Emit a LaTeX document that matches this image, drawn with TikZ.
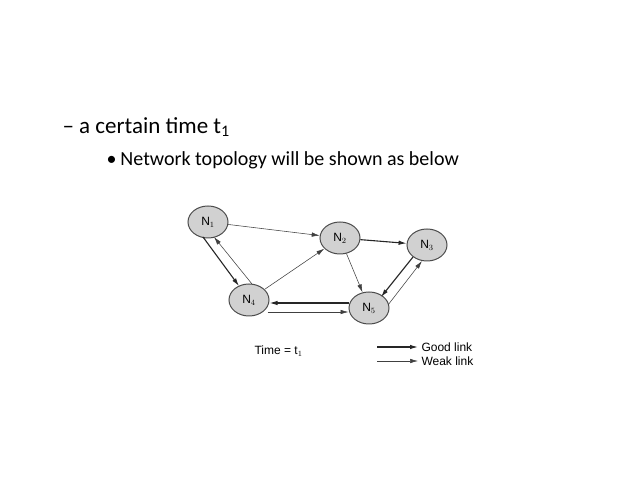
\documentclass[tikz,border=0pt]{standalone}
\usepackage{fontspec}
\setmainfont{Carlito}
\newfontfamily\hel{Liberation Sans}
\usetikzlibrary{arrows.meta,shapes.geometric,calc}
\begin{document}
\begin{tikzpicture}[x=1pt,y=-1pt,
  nd/.style={ellipse,draw=black!70,fill=black!18,line width=1pt,minimum width=40pt,minimum height=32pt,inner sep=0pt,font=\hel\fontsize{12}{12}\selectfont},
  good/.style={-{Latex[length=8pt,width=4.5pt]},line width=1.1pt,black!85},
  weak/.style={-{Latex[length=8pt,width=4.5pt]},line width=0.55pt,black!75}]
\useasboundingbox (0,0) rectangle (638,478);
\node[anchor=west,font=\fontsize{23}{25}\selectfont] (h1) at (59,127) {– a certain time t\textsubscript{1}};
\node[anchor=west,font=\fontsize{20}{22}\selectfont] (h2) at (103,160) {•\hspace{4pt}Network topology will be shown as below};
\node[nd] (n1) at (208,222) {N$_1$};
\node[nd] (n2) at (340,238) {N$_2$};
\node[nd] (n3) at (427,245) {N$_3$};
\node[nd] (n4) at (249,300) {N$_4$};
\node[nd] (n5) at (369,308) {N$_5$};
\draw[weak] (n1) -- (n2);
\draw[good] ($(n1)+(-5,15)$) -- ($(n4)+(-10,-14)$);
\draw[weak] ($(n4)+(3,-16)$) -- ($(n1)+(6,15)$);
\draw[weak] (n4) -- (n2);
\draw[good] (n2) -- (n3);
\draw[weak] (n2) -- (n5);
\draw[good] ($(n3)+(-14,12)$) -- ($(n5)+(12,-11)$);
\draw[weak] ($(n5)+(19,-3)$) -- ($(n3)+(-5,16)$);
\draw[good] ($(n5.west)+(0,-5)$) -- ($(n4.east)+(0,3)$);
\draw[weak] ($(n4.east)+(-2,12)$) -- ($(n5.west)+(0,4)$);
\node[anchor=west,font=\hel\fontsize{12}{12}\selectfont] (t) at (251,351) {Time = t$_1$};
\coordinate (g1) at (377,347); \coordinate (g2) at (418,347);
\coordinate (w1) at (377,361); \coordinate (w2) at (418,361);
\draw[good] (g1) -- (g2);
\draw[weak] (w1) -- (w2);
\node[anchor=west,font=\hel\fontsize{12}{12}\selectfont] (gl) at (g2) {Good link};
\node[anchor=west,font=\hel\fontsize{12}{12}\selectfont] (wl) at (w2) {Weak link};
\end{tikzpicture}
\end{document}
